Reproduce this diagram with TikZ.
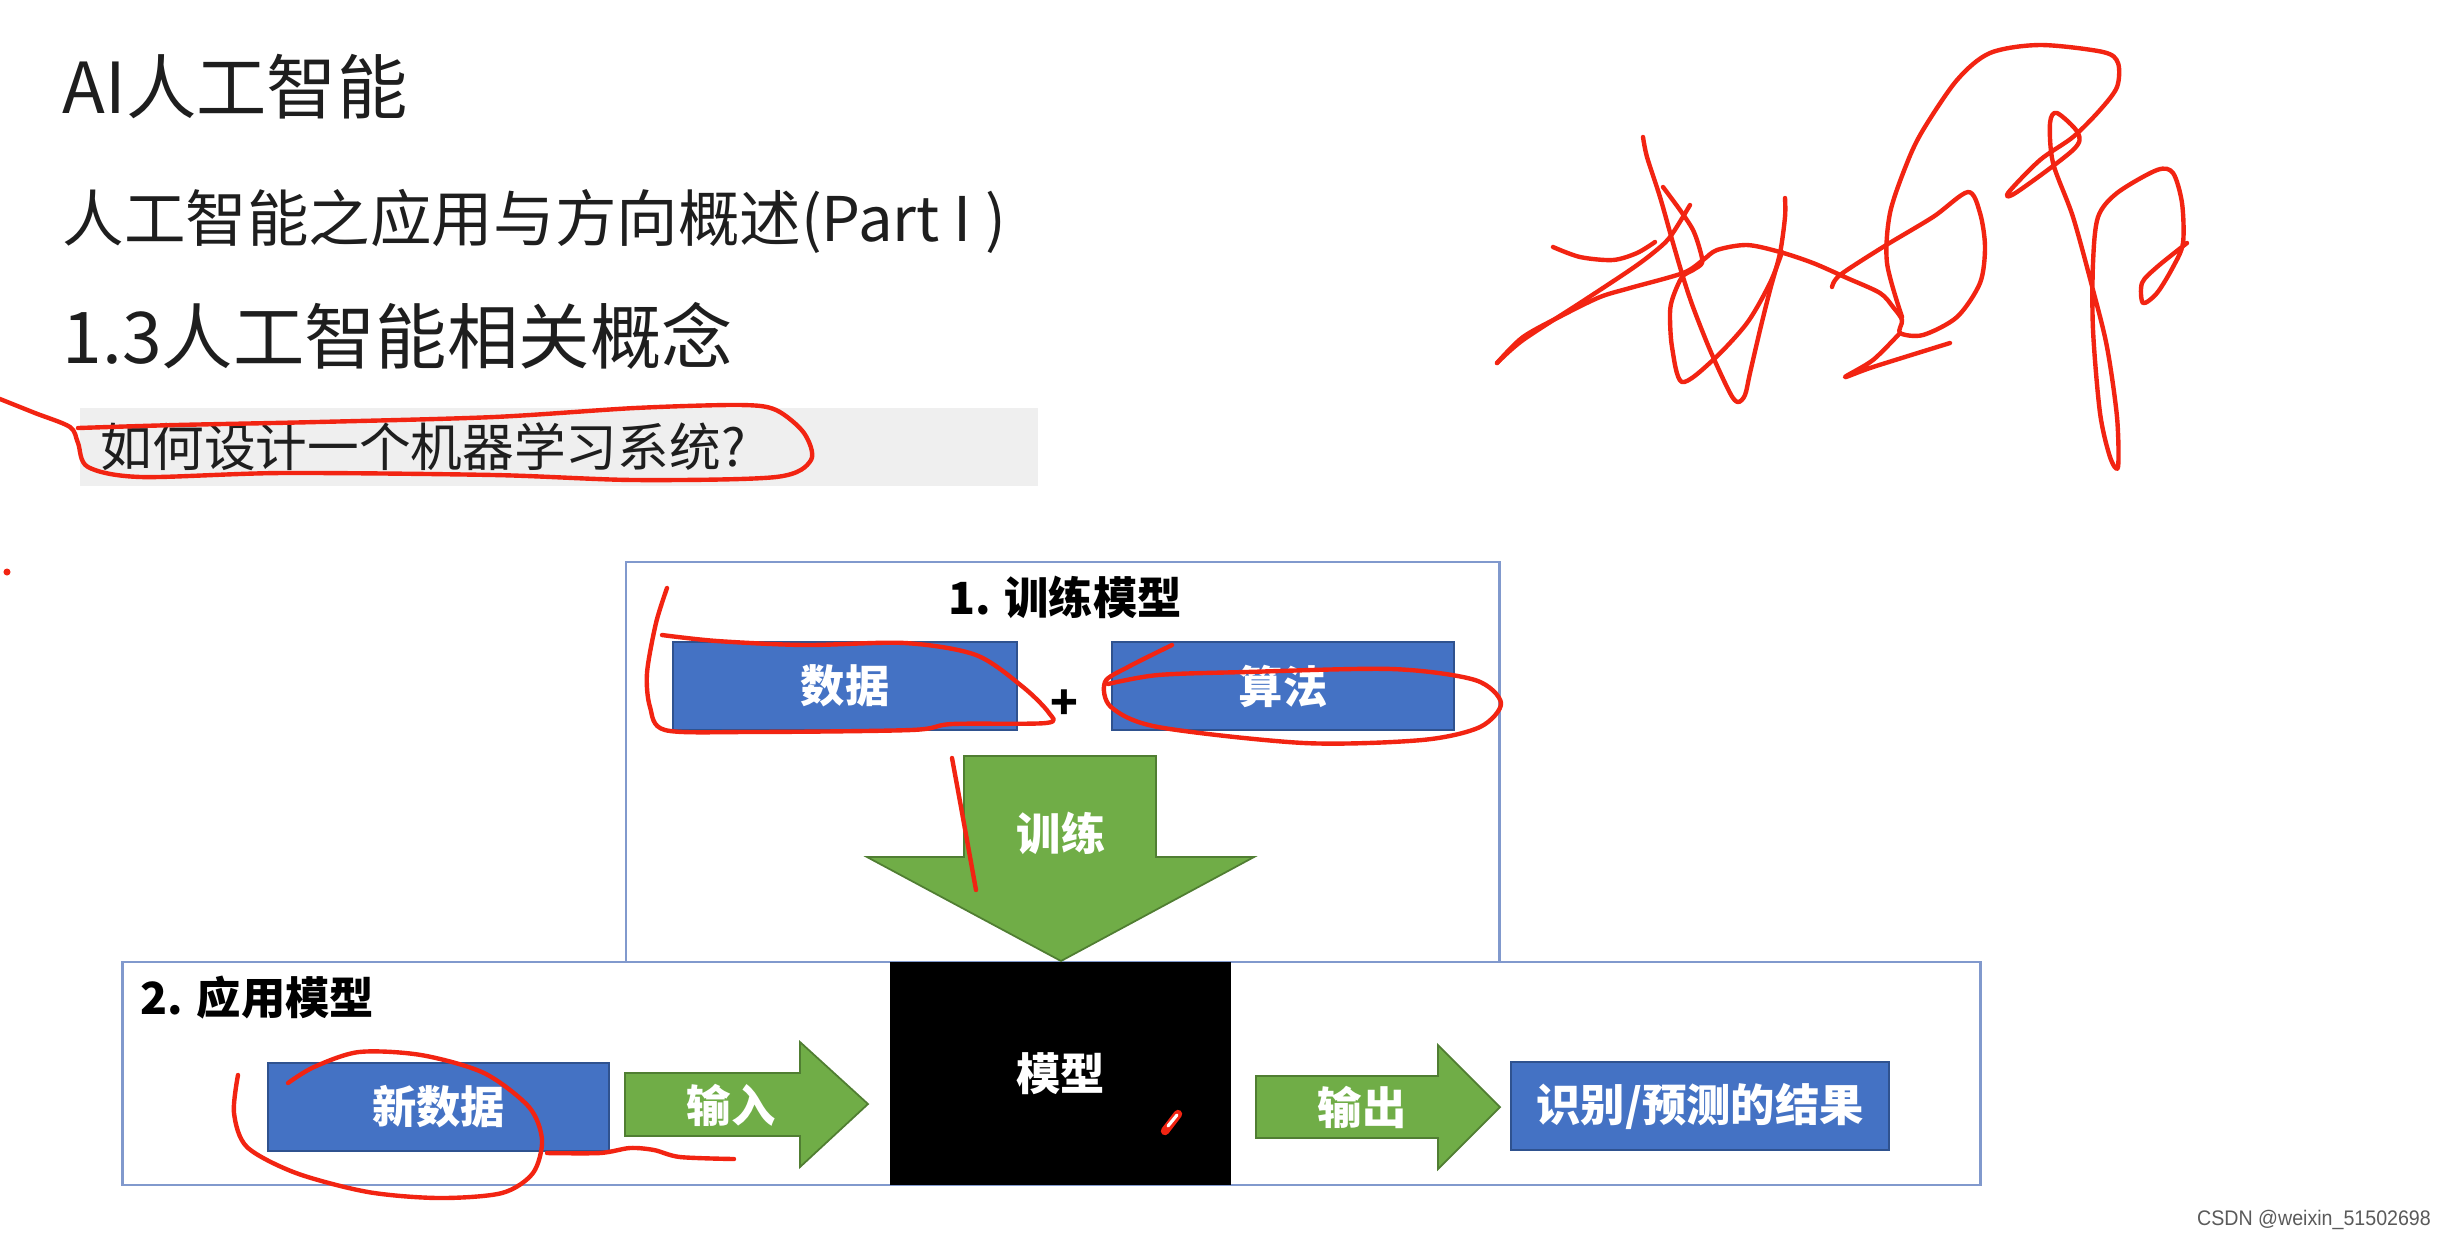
\documentclass[tikz,border=0pt]{standalone}
\usepackage{fontspec}
\setmainfont{Noto Sans CJK SC}
\newfontfamily\wmfont{Liberation Sans}
\definecolor{inkred}{RGB}{242,36,18}
\definecolor{boxblue}{HTML}{4472C4}
\definecolor{boxedge}{HTML}{2F528F}
\definecolor{arrowgreen}{HTML}{70AD47}
\definecolor{arrowedge}{HTML}{507E32}
\definecolor{paneledge}{HTML}{8199CD}
\definecolor{greybg}{HTML}{EFEFEF}
\definecolor{titlecol}{HTML}{1E1E1E}
\definecolor{wmcol}{HTML}{5A5A5A}
\newcommand\diaglabelfont{\bfseries\fontsize{12.6}{15}\selectfont}
\begin{document}
\begin{tikzpicture}[x=0.01cm, y=-0.01cm,
  ink/.style={draw=inkred, line width=1.25pt, line cap=round, line join=round},
  panel/.style={draw=paneledge, line width=0.7pt, inner sep=0pt},
  bluebox/.style={fill=boxblue, draw=boxedge, line width=0.5pt, minimum height=0.88cm, inner sep=0pt, text=white, font=\diaglabelfont},
  greenshape/.style={fill=arrowgreen, draw=arrowedge, line width=0.5pt},
  whitelabel/.style={text=white, font=\diaglabelfont, inner sep=0pt},
  heading/.style={text=titlecol, inner sep=0pt, anchor=base west}]

\useasboundingbox (0,0) rectangle (2445,1238);
\fill[white] (0,0) rectangle (2445,1238);

% headings
\node[heading, font=\fontsize{20}{24}\selectfont] (title) at (62,113) {AI人工智能};
\node[heading, font=\fontsize{17.5}{21}\selectfont] (subtitle) at (62,241) {人工智能之应用与方向概述(Part I )};
\node[heading, font=\fontsize{20.3}{24}\selectfont] (section) at (62,363) {1.3人工智能相关概念};

\node[fill=greybg, minimum width=9.58cm, minimum height=0.78cm, inner sep=0pt] (qbox) at (559,447) {};
\node[anchor=west, inner sep=0pt, text=titlecol, font=\fontsize{14.7}{18}\selectfont] (question) at (100,447) {如何设计一个机器学习系统?};

% panels
\node[panel, minimum width=8.73cm, minimum height=4.0cm] (trainpanel) at (1062.5,762) {};
\node[panel, minimum width=18.57cm, minimum height=2.23cm] (applypanel) at (1051.5,1073.5) {};
\node[fill=black, minimum width=3.41cm, minimum height=2.23cm, inner sep=0pt, text=white, font=\diaglabelfont] (model) at (1060.5,1073.5) {模型};

% training part
\node[inner sep=0pt, font=\diaglabelfont] (traintitle) at (1065,597) {1. 训练模型};
\node[bluebox, minimum width=3.44cm] (data) at (845,686) {数据};
\node[inner sep=0pt, font=\bfseries\fontsize{13}{15}\selectfont] (plus) at (1064,705) {+};
\node[bluebox, minimum width=3.42cm] (algo) at (1283,686) {算法};

\path[greenshape] (964,756) -- (1156,756) -- (1156,857) -- (1254,857) -- (1061,961) -- (867,857) -- (964,857) -- cycle;
\node[whitelabel] (trainlabel) at (1061,833) {训练};

% application part
\node[inner sep=0pt, anchor=west, font=\diaglabelfont] (applytitle) at (140,998) {2. 应用模型};
\node[bluebox, minimum width=3.41cm] (newdata) at (438.5,1107) {新数据};
\path[greenshape] (625,1073) -- (800,1073) -- (800,1042) -- (868,1104) -- (800,1167) -- (800,1136) -- (625,1136) -- cycle;
\node[whitelabel] (inlabel) at (731,1105) {输入};
\path[greenshape] (1256,1076) -- (1438,1076) -- (1438,1045) -- (1500,1107) -- (1438,1169) -- (1438,1138) -- (1256,1138) -- cycle;
\node[whitelabel] (outlabel) at (1362,1107) {输出};
\node[bluebox, minimum width=3.78cm] (result) at (1700,1106) {识别/预测的结果};

% watermark
\node[inner sep=0pt, text=wmcol, font=\wmfont\fontsize{6}{7}\selectfont, xscale=0.93] (wm) at (2314,1220) {CSDN @weixin\_51502698};

% pen cursor
\draw[inkred, line width=2.4pt, line cap=round] (1165,1131) -- (1178,1114);
\draw[white, line width=0.9pt, line cap=round] (1168,1126) -- (1177,1115);

% red annotations
\fill[inkred] (7,572) circle[radius=1pt];
\draw[ink] plot[smooth, tension=0.5] coordinates {(0,399) (35,413) (70,427) (78,443) (88,467) (141,477) (282,473) (494,475) (635,480) (776,477) (811,460) (804,433) (776,410) (740,405) (635,408) (494,417) (317,422) (176,425) (78,428)};
\draw[ink] plot[smooth, tension=0.5] coordinates {(662,635) (717,641) (805,645) (905,643) (976,655) (1023,687) (1049,713) (1046,723) (952,724) (911,730) (747,732) (665,730) (650,707) (647,673) (656,623) (667,588)};
\draw[ink] plot[smooth, tension=0.5] coordinates {(1172,645) (1128,667) (1105,682) (1111,707) (1158,727) (1304,743) (1422,740) (1480,727) (1501,703) (1475,680) (1392,669) (1246,672) (1158,675) (1108,684)};
\draw[ink] plot[smooth, tension=0.5] coordinates {(952,758) (961,807) (976,890)};
\draw[ink] plot[smooth, tension=0.5] coordinates {(288,1083) (314,1067) (359,1052) (421,1055) (484,1073) (529,1107) (542,1140) (533,1173) (502,1193) (439,1198) (368,1192) (296,1173) (247,1147) (234,1113) (238,1075)};
\draw[ink] plot[smooth, tension=0.5] coordinates {(547,1153) (600,1153) (630,1148) (654,1150) (680,1157) (734,1159)};

% signature
\draw[ink] plot[smooth, tension=0.5] coordinates {(1497,363) (1523,337) (1563,315) (1600,297) (1630,288) (1683,273) (1703,260) (1717,250) (1747,245) (1780,252) (1813,263) (1847,278) (1880,293) (1893,307) (1902,320) (1900,333) (1923,335) (1957,317) (1980,283) (1985,247) (1980,213) (1968,192) (1933,217) (1883,247) (1840,275) (1832,287)};
\draw[ink] plot[smooth, tension=0.5] coordinates {(1497,363) (1523,340) (1580,303) (1630,270) (1653,253) (1670,237) (1690,205)};
\draw[ink] plot[smooth, tension=0.5] coordinates {(1553,247) (1580,257) (1613,260) (1637,253) (1655,242)};
\draw[ink] plot[smooth, tension=0.5] coordinates {(1643,137) (1647,157) (1660,197) (1673,243) (1683,277) (1693,307) (1710,350) (1730,393) (1738,402) (1745,395) (1750,373) (1760,330) (1770,290) (1780,253) (1785,217) (1785,198)};
\draw[ink] plot[smooth, tension=0.5] coordinates {(1663,187) (1680,210) (1693,230) (1700,250) (1702,263) (1693,270) (1682,277) (1673,297) (1670,313) (1672,347) (1682,382) (1713,360) (1747,323) (1770,283) (1782,252)};
\draw[ink] plot[smooth, tension=0.5] coordinates {(1900,333) (1873,360) (1845,377) (1873,367) (1950,343)};
\draw[ink] plot[smooth, tension=0.5] coordinates {(1902,317) (1887,263) (1890,213) (1907,163) (1923,130) (1957,80) (1990,53) (2040,45) (2103,52) (2118,63) (2117,87) (2100,110) (2073,137) (2040,160) (2008,193) (2017,192) (2073,150) (2078,133) (2057,113) (2050,123) (2053,163) (2073,217) (2093,290) (2107,347) (2117,417) (2118,467) (2110,457) (2100,413) (2093,330) (2093,263) (2098,217) (2117,193) (2157,170) (2173,173) (2182,203) (2183,243) (2173,267) (2157,293) (2143,303) (2142,283) (2157,267) (2187,243)};
\end{tikzpicture}
\end{document}
